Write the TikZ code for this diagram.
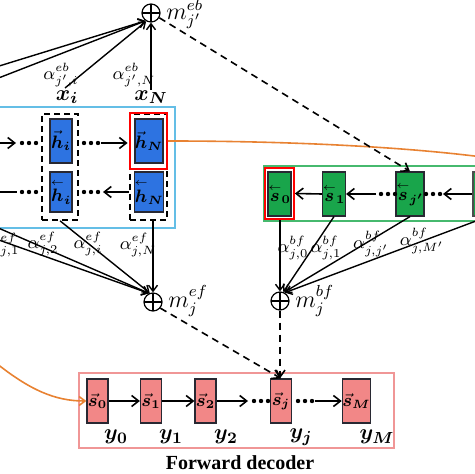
\documentclass[tikz,border=0pt]{standalone}
\usepackage{amsmath}
\usepackage{bm}
\usepackage{fontspec}
\setmainfont{Liberation Serif}
\usetikzlibrary{arrows.meta}
\definecolor{encblue}{RGB}{45,115,225}
\definecolor{encframe}{RGB}{100,190,230}
\definecolor{decgreen}{RGB}{25,165,75}
\definecolor{greenframe}{RGB}{70,185,110}
\definecolor{decpink}{RGB}{242,135,135}
\definecolor{pinkframe}{RGB}{240,150,150}
\definecolor{orangeline}{RGB}{232,130,50}
\definecolor{cellborder}{RGB}{40,40,50}
\newcommand{\lv}[1]{\overset{\scriptscriptstyle\leftarrow}{#1}}
\begin{document}
\begin{tikzpicture}[x=0.5pt,y=-0.5pt,
  cell/.style={draw=cellborder, line width=0.6pt, minimum width=11pt, minimum height=22pt, inner sep=0pt, font=\fontsize{9}{10}\selectfont},
  hcell/.style={cell, fill=encblue},
  gcell/.style={cell, fill=decgreen, minimum width=10.5pt},
  pcell/.style={cell, fill=decpink, minimum width=10.5pt},
  dashbox/.style={draw, dashed, line width=0.8pt, dash pattern=on 3pt off 2pt, minimum width=18pt, minimum height=53pt, inner sep=0pt},
  redbox/.style={draw=red, line width=0.9pt, inner sep=0pt},
  arr/.style={line width=0.8pt, -{Straight Barb[length=3.5pt,width=5.5pt]}},
  att/.style={line width=0.7pt, -{Straight Barb[length=3pt,width=4.5pt]}},
  dsharr/.style={line width=0.8pt, dash pattern=on 3.5pt off 2.5pt, -{Straight Barb[length=3.5pt,width=5pt]}},
  oplus/.style={circle, draw, line width=0.6pt, minimum size=9pt, inner sep=0pt,
    path picture={\draw[line width=0.6pt] (path picture bounding box.north) -- (path picture bounding box.south) (path picture bounding box.west) -- (path picture bounding box.east);}},
  lab/.style={font=\fontsize{11}{13}\selectfont, inner sep=0pt},
  mlab/.style={font=\fontsize{11.5}{13}\selectfont, inner sep=0pt, anchor=west},
  alab/.style={font=\fontsize{9}{10}\selectfont, inner sep=0pt},
  dot/.style={fill=black}
]
\useasboundingbox (0,0) rectangle (474,474);

% ---------- frames ----------
\draw[encframe, line width=0.7pt] (-10,107) rectangle (175,228);
\draw[greenframe, line width=0.7pt] (264,166) rectangle (490,221);
\draw[pinkframe, line width=0.7pt] (79,373) rectangle (394,448);

% ---------- encoder ----------
\node[hcell] (hif) at (61,141) {$\vec{\bm h}_{\bm i}$};
\node[hcell, minimum height=20pt] (hib) at (61,192) {$\lv{\bm h}_{\bm i}$};
\node[hcell] (hNf) at (149,141) {$\vec{\bm h}_{\bm N}$};
\node[hcell, minimum height=20pt] (hNb) at (149,192) {$\lv{\bm h}_{\bm N}$};
\node[dashbox] (hibox) at (60,167) {};
\node[dashbox, minimum width=18.5pt] (hNbox) at (148.5,167) {};
\node[redbox, minimum width=18.5pt, minimum height=28pt] (hNred) at (148.5,141) {};

\node[lab] (xi) at (67,97) {$\bm{x_i}$};
\node[lab] (xN) at (151,97) {$\bm{x_N}$};

% forward row
\coordinate (fL) at (-2,143);
\coordinate (fLend) at (16,143);
\draw[arr] (fL) -- (fLend);
\foreach \x in {22,29,36} \fill[dot] (\x,143) circle (1.1pt);
\foreach \x in {84,91,98} \fill[dot] (\x,143) circle (1.1pt);
\coordinate (fM) at (101,143);
\draw[arr] (fM) -- ([xshift=-0.8pt]hNbox.west |- fM);
% backward row
\coordinate (bL) at (-2,192);
\coordinate (bLend) at (17,192);
\draw[line width=0.8pt] (bL) -- (bLend);
\foreach \x in {22,29,36} \fill[dot] (\x,192) circle (1.1pt);
\foreach \x in {84,91,98} \fill[dot] (\x,192) circle (1.1pt);
\coordinate (bM) at (103,192);
\draw[arr] (hNbox.west |- bM) -- (bM);

% ---------- top attention (eb) ----------
\node[oplus] (eb) at (151,13) {};
\node[mlab] (meb) at (166,14) {$m^{eb}_{j'}$};
\coordinate (L1) at (-4,67);
\coordinate (L2) at (-4,79);
\coordinate (xiT) at (65,88);
\draw[att] (L1) -- (eb.-125);
\draw[att] (L2) -- (eb.-125);
\draw[att] (xiT) -- (eb.-120);
\draw[att] (xN.north) -- (eb.south);
\node[alab] (aebi) at (61,75) {$\alpha^{eb}_{j',i}$};
\node[alab] (aebN) at (134,75) {$\alpha^{eb}_{j',N}$};

% ---------- encoder attention (ef) ----------
\node[oplus] (ef) at (153,302) {};
\node[mlab] (mef) at (168,301) {$m^{ef}_{j}$};
\coordinate (E1) at (-4,227);
\coordinate (E2) at (-4,239);
\draw[att] (E1) -- (ef.115);
\draw[att] (E2) -- (ef.115);
\draw[att] (hibox.south) -- (ef.110);
\draw[att] (hNbox.south -| ef) -- (ef.north);
\node[alab] (aef1) at (4,245) {$\alpha^{ef}_{j,1}$};
\node[alab] (aef2) at (43,244) {$\alpha^{ef}_{j,2}$};
\node[alab] (aefi) at (88,244) {$\alpha^{ef}_{j,i}$};
\node[alab] (aefN) at (138,245) {$\alpha^{ef}_{j,N}$};

% ---------- backward decoder ----------
\node[gcell] (s0g) at (279.5,194) {$\lv{\bm s}_{\bm 0}$};
\node[gcell] (s1g) at (334,194) {$\lv{\bm s}_{\bm 1}$};
\node[gcell] (sjg) at (410,194) {$\lv{\bm s}_{\bm{j'}}$};
\node[gcell, draw=black!70] (srg) at (483.5,194) {};
\node[redbox, minimum width=14.5pt, minimum height=25.5pt] (s0red) at (279.5,193.5) {};
\draw[arr] (s1g.west) -- (s0red.east);
\coordinate (gM1) at (376,194);
\draw[arr] (gM1) -- (s1g.east);
\foreach \x in {381,388,395} \fill[dot] (\x,194) circle (1.1pt);
\foreach \x in {426,433,440} \fill[dot] (\x,194) circle (1.1pt);
\coordinate (gM2) at (443,194);
\draw[arr] (srg.west) -- (gM2);

% orange links
\draw[orangeline, line width=0.8pt] (hNred.east) .. controls (280,141) and (400,146) .. (490,158);
\coordinate (O2) at (-4,363);

% ---------- backward attention (bf) ----------
\node[oplus] (bf) at (280,301) {};
\node[mlab] (mbf) at (295,301) {$m^{bf}_{j}$};
\coordinate (gR) at (476,221);
\draw[att] (s0red.south -| bf) -- (bf.north);
\draw[att] (s1g.south) -- (bf.70);
\draw[att] (sjg.south) -- (bf.65);
\draw[att] (gR) -- (bf.60);
\node[alab] (abf0) at (293,248) {$\alpha^{bf}_{j,0}$};
\node[alab] (abf1) at (326,248) {$\alpha^{bf}_{j,1}$};
\node[alab] (abfj) at (371,244) {$\alpha^{bf}_{j,j'}$};
\node[alab] (abfM) at (422,241) {$\alpha^{bf}_{j,M'}$};

% dashed context links
\draw[dsharr] (eb.-30) -- (sjg.north);

% ---------- forward decoder ----------
\node[pcell] (ps0) at (97.5,401) {$\vec{\bm s}_{\bm 0}$};
\node[pcell] (ps1) at (151,401) {$\vec{\bm s}_{\bm 1}$};
\node[pcell] (ps2) at (205.5,401) {$\vec{\bm s}_{\bm 2}$};
\node[pcell] (psj) at (281,401) {$\vec{\bm s}_{\bm j}$};
\node[pcell] (psM) at (356.5,401) {$\vec{\bm s}_{\bm M}$};
\draw[arr] (ps0.east) -- (ps1.west);
\draw[arr] (ps1.east) -- (ps2.west);
\coordinate (pM1) at (248,401);
\draw[arr] (ps2.east) -- (pM1);
\foreach \x in {254,261,268} \fill[dot] (\x,401) circle (1.1pt);
\foreach \x in {298,305,312} \fill[dot] (\x,401) circle (1.1pt);
\coordinate (pM2) at (315,401);
\draw[arr] (pM2) -- (psM.west);

\draw[orangeline, line width=0.8pt, -{Straight Barb[length=3pt,width=4.5pt]}] (O2) .. controls (30,390) and (55,401) .. (ps0.west);

\draw[dsharr] (ef.-40) -- (psj.north);
\draw[dsharr] (bf.south) -- (bf.south |- psj.north);

\node[lab] (y0) at (116,437) {$\bm{y_0}$};
\node[lab] (y1) at (171,437) {$\bm{y_1}$};
\node[lab] (y2) at (226,437) {$\bm{y_2}$};
\node[lab] (yj) at (301,437) {$\bm{y_j}$};
\node[lab] (yM) at (377,437) {$\bm{y_M}$};

\node[font=\fontsize{10}{12}\selectfont\bfseries, inner sep=0pt] (title) at (240,463) {Forward decoder};
\end{tikzpicture}
\end{document}
